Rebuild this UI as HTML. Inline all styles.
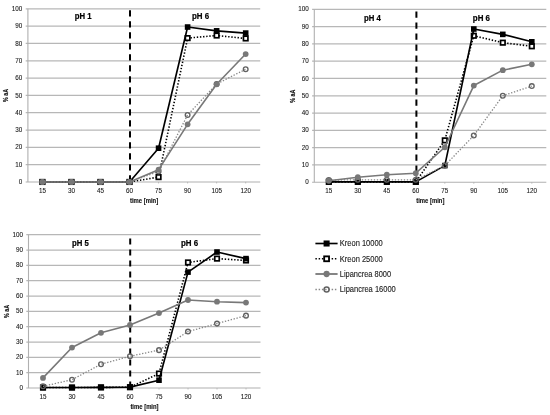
<!DOCTYPE html>
<html><head><meta charset="utf-8"><title>Chart</title>
<style>
html,body{margin:0;padding:0;background:#fff;}
body{width:550px;height:415px;overflow:hidden;}
svg{display:block;}
text{font-family:"Liberation Sans", "DejaVu Sans", sans-serif;fill:#161616;}
.yl{font-size:6.3px;text-anchor:end;stroke:#161616;stroke-width:0.08px;}
.xl{font-size:6.3px;text-anchor:middle;stroke:#161616;stroke-width:0.08px;}
.xt{font-size:6.6px;font-weight:bold;text-anchor:middle;fill:#111;stroke:#111;stroke-width:0.12px;}
.yt{font-size:6.6px;font-weight:bold;text-anchor:middle;fill:#111;stroke:#111;stroke-width:0.18px;}
.ph{font-size:8.4px;font-weight:bold;text-anchor:middle;fill:#000;stroke:#000;stroke-width:0.2px;}
.lg{font-size:8.3px;fill:#222;stroke:#222;stroke-width:0.12px;}
</style></head>
<body>
<svg width="550" height="415" viewBox="0 0 550 415">
<rect width="550" height="415" fill="#fff"/>
<line x1="25.7" y1="164.64" x2="260.2" y2="164.64" stroke="#b7b7b7" stroke-width="1.25"/>
<line x1="25.7" y1="147.33" x2="260.2" y2="147.33" stroke="#b7b7b7" stroke-width="1.25"/>
<line x1="25.7" y1="130.02" x2="260.2" y2="130.02" stroke="#b7b7b7" stroke-width="1.25"/>
<line x1="25.7" y1="112.71" x2="260.2" y2="112.71" stroke="#b7b7b7" stroke-width="1.25"/>
<line x1="25.7" y1="95.4" x2="260.2" y2="95.4" stroke="#b7b7b7" stroke-width="1.25"/>
<line x1="25.7" y1="78.09" x2="260.2" y2="78.09" stroke="#b7b7b7" stroke-width="1.25"/>
<line x1="25.7" y1="60.78" x2="260.2" y2="60.78" stroke="#b7b7b7" stroke-width="1.25"/>
<line x1="25.7" y1="43.47" x2="260.2" y2="43.47" stroke="#b7b7b7" stroke-width="1.25"/>
<line x1="25.7" y1="26.16" x2="260.2" y2="26.16" stroke="#b7b7b7" stroke-width="1.25"/>
<line x1="25.7" y1="8.85" x2="260.2" y2="8.85" stroke="#b7b7b7" stroke-width="1.25"/>
<line x1="27.9" y1="8.85" x2="27.9" y2="181.95" stroke="#b0b0b0" stroke-width="1.1"/>
<line x1="25.7" y1="181.95" x2="260.2" y2="181.95" stroke="#b0b0b0" stroke-width="1.1"/>
<line x1="42.42" y1="181.95" x2="42.42" y2="183.45" stroke="#b0b0b0" stroke-width="0.8"/>
<line x1="71.46" y1="181.95" x2="71.46" y2="183.45" stroke="#b0b0b0" stroke-width="0.8"/>
<line x1="100.49" y1="181.95" x2="100.49" y2="183.45" stroke="#b0b0b0" stroke-width="0.8"/>
<line x1="129.53" y1="181.95" x2="129.53" y2="183.45" stroke="#b0b0b0" stroke-width="0.8"/>
<line x1="158.57" y1="181.95" x2="158.57" y2="183.45" stroke="#b0b0b0" stroke-width="0.8"/>
<line x1="187.61" y1="181.95" x2="187.61" y2="183.45" stroke="#b0b0b0" stroke-width="0.8"/>
<line x1="216.64" y1="181.95" x2="216.64" y2="183.45" stroke="#b0b0b0" stroke-width="0.8"/>
<line x1="245.68" y1="181.95" x2="245.68" y2="183.45" stroke="#b0b0b0" stroke-width="0.8"/>
<text x="22.3" y="184.05" class="yl">0</text>
<text x="22.3" y="166.74" class="yl">10</text>
<text x="22.3" y="149.43" class="yl">20</text>
<text x="22.3" y="132.12" class="yl">30</text>
<text x="22.3" y="114.81" class="yl">40</text>
<text x="22.3" y="97.5" class="yl">50</text>
<text x="22.3" y="80.19" class="yl">60</text>
<text x="22.3" y="62.88" class="yl">70</text>
<text x="22.3" y="45.57" class="yl">80</text>
<text x="22.3" y="28.26" class="yl">90</text>
<text x="22.3" y="10.95" class="yl">100</text>
<text x="42.42" y="192.55" class="xl">15</text>
<text x="71.46" y="192.55" class="xl">30</text>
<text x="100.49" y="192.55" class="xl">45</text>
<text x="129.53" y="192.55" class="xl">60</text>
<text x="158.57" y="192.55" class="xl">75</text>
<text x="187.61" y="192.55" class="xl">90</text>
<text x="216.64" y="192.55" class="xl">105</text>
<text x="245.68" y="192.55" class="xl">120</text>
<text x="144.05" y="202.55" class="xt" textLength="28.2" lengthAdjust="spacingAndGlyphs">time [min]</text>
<text x="0" y="0" class="yt" textLength="13" lengthAdjust="spacingAndGlyphs" transform="translate(8.3 95.5) rotate(-90)">% aA</text>
<text x="83.1" y="18.5" class="ph" textLength="16.8" lengthAdjust="spacingAndGlyphs">pH 1</text>
<text x="200.5" y="18.5" class="ph" textLength="17.2" lengthAdjust="spacingAndGlyphs">pH 6</text>
<line x1="130" y1="10.3" x2="130" y2="181.95" stroke="#000" stroke-width="2" stroke-dasharray="6.2 4.8"/>
<polyline points="42.42,181.95 71.46,181.95 100.49,181.95 129.53,181.95 158.57,177.1 187.61,38.1 216.64,35.51 245.68,38.45" fill="none" stroke="#000" stroke-width="1.6" stroke-dasharray="1.4 1.75"/>
<rect x="40.17" y="179.7" width="4.5" height="4.5" fill="#fff" stroke="#000" stroke-width="1.7"/>
<rect x="69.21" y="179.7" width="4.5" height="4.5" fill="#fff" stroke="#000" stroke-width="1.7"/>
<rect x="98.24" y="179.7" width="4.5" height="4.5" fill="#fff" stroke="#000" stroke-width="1.7"/>
<rect x="127.28" y="179.7" width="4.5" height="4.5" fill="#fff" stroke="#000" stroke-width="1.7"/>
<rect x="156.32" y="174.85" width="4.5" height="4.5" fill="#fff" stroke="#000" stroke-width="1.7"/>
<rect x="185.36" y="35.85" width="4.5" height="4.5" fill="#fff" stroke="#000" stroke-width="1.7"/>
<rect x="214.39" y="33.26" width="4.5" height="4.5" fill="#fff" stroke="#000" stroke-width="1.7"/>
<rect x="243.43" y="36.2" width="4.5" height="4.5" fill="#fff" stroke="#000" stroke-width="1.7"/>
<polyline points="42.42,181.95 71.46,181.95 100.49,181.95 129.53,181.95 158.57,148.2 187.61,27.03 216.64,30.83 245.68,33.08" fill="none" stroke="#000" stroke-width="1.65" stroke-linejoin="round"/>
<rect x="39.62" y="179.15" width="5.6" height="5.6" fill="#000"/>
<rect x="68.66" y="179.15" width="5.6" height="5.6" fill="#000"/>
<rect x="97.69" y="179.15" width="5.6" height="5.6" fill="#000"/>
<rect x="126.73" y="179.15" width="5.6" height="5.6" fill="#000"/>
<rect x="155.77" y="145.4" width="5.6" height="5.6" fill="#000"/>
<rect x="184.81" y="24.23" width="5.6" height="5.6" fill="#000"/>
<rect x="213.84" y="28.03" width="5.6" height="5.6" fill="#000"/>
<rect x="242.88" y="30.28" width="5.6" height="5.6" fill="#000"/>
<polyline points="42.42,181.95 71.46,181.95 100.49,181.95 129.53,181.95 158.57,171.56 187.61,114.96 216.64,83.98 245.68,69.26" fill="none" stroke="#878787" stroke-width="1.3" stroke-dasharray="1.35 1.65"/>
<circle cx="42.42" cy="181.95" r="2.35" fill="none" stroke="#626262" stroke-width="1.35"/>
<circle cx="71.46" cy="181.95" r="2.35" fill="none" stroke="#626262" stroke-width="1.35"/>
<circle cx="100.49" cy="181.95" r="2.35" fill="none" stroke="#626262" stroke-width="1.35"/>
<circle cx="129.53" cy="181.95" r="2.35" fill="none" stroke="#626262" stroke-width="1.35"/>
<circle cx="158.57" cy="171.56" r="2.35" fill="none" stroke="#626262" stroke-width="1.35"/>
<circle cx="187.61" cy="114.96" r="2.35" fill="none" stroke="#626262" stroke-width="1.35"/>
<circle cx="216.64" cy="83.98" r="2.35" fill="none" stroke="#626262" stroke-width="1.35"/>
<circle cx="245.68" cy="69.26" r="2.35" fill="none" stroke="#626262" stroke-width="1.35"/>
<polyline points="42.42,181.95 71.46,181.95 100.49,181.95 129.53,181.95 158.57,169.66 187.61,124.31 216.64,84.32 245.68,54.03" fill="none" stroke="#787878" stroke-width="1.6" stroke-linejoin="round"/>
<circle cx="42.42" cy="181.95" r="2.9" fill="#787878"/>
<circle cx="71.46" cy="181.95" r="2.9" fill="#787878"/>
<circle cx="100.49" cy="181.95" r="2.9" fill="#787878"/>
<circle cx="129.53" cy="181.95" r="2.9" fill="#787878"/>
<circle cx="158.57" cy="169.66" r="2.9" fill="#787878"/>
<circle cx="187.61" cy="124.31" r="2.9" fill="#787878"/>
<circle cx="216.64" cy="84.32" r="2.9" fill="#787878"/>
<circle cx="245.68" cy="54.03" r="2.9" fill="#787878"/>
<line x1="312.1" y1="164.91" x2="546.3" y2="164.91" stroke="#b7b7b7" stroke-width="1.25"/>
<line x1="312.1" y1="147.62" x2="546.3" y2="147.62" stroke="#b7b7b7" stroke-width="1.25"/>
<line x1="312.1" y1="130.33" x2="546.3" y2="130.33" stroke="#b7b7b7" stroke-width="1.25"/>
<line x1="312.1" y1="113.04" x2="546.3" y2="113.04" stroke="#b7b7b7" stroke-width="1.25"/>
<line x1="312.1" y1="95.75" x2="546.3" y2="95.75" stroke="#b7b7b7" stroke-width="1.25"/>
<line x1="312.1" y1="78.46" x2="546.3" y2="78.46" stroke="#b7b7b7" stroke-width="1.25"/>
<line x1="312.1" y1="61.17" x2="546.3" y2="61.17" stroke="#b7b7b7" stroke-width="1.25"/>
<line x1="312.1" y1="43.88" x2="546.3" y2="43.88" stroke="#b7b7b7" stroke-width="1.25"/>
<line x1="312.1" y1="26.59" x2="546.3" y2="26.59" stroke="#b7b7b7" stroke-width="1.25"/>
<line x1="312.1" y1="9.3" x2="546.3" y2="9.3" stroke="#b7b7b7" stroke-width="1.25"/>
<line x1="314.3" y1="9.3" x2="314.3" y2="182.2" stroke="#b0b0b0" stroke-width="1.1"/>
<line x1="312.1" y1="182.2" x2="546.3" y2="182.2" stroke="#b0b0b0" stroke-width="1.1"/>
<line x1="328.8" y1="182.2" x2="328.8" y2="183.7" stroke="#b0b0b0" stroke-width="0.8"/>
<line x1="357.8" y1="182.2" x2="357.8" y2="183.7" stroke="#b0b0b0" stroke-width="0.8"/>
<line x1="386.8" y1="182.2" x2="386.8" y2="183.7" stroke="#b0b0b0" stroke-width="0.8"/>
<line x1="415.8" y1="182.2" x2="415.8" y2="183.7" stroke="#b0b0b0" stroke-width="0.8"/>
<line x1="444.8" y1="182.2" x2="444.8" y2="183.7" stroke="#b0b0b0" stroke-width="0.8"/>
<line x1="473.8" y1="182.2" x2="473.8" y2="183.7" stroke="#b0b0b0" stroke-width="0.8"/>
<line x1="502.8" y1="182.2" x2="502.8" y2="183.7" stroke="#b0b0b0" stroke-width="0.8"/>
<line x1="531.8" y1="182.2" x2="531.8" y2="183.7" stroke="#b0b0b0" stroke-width="0.8"/>
<text x="308.7" y="184.3" class="yl">0</text>
<text x="308.7" y="167.01" class="yl">10</text>
<text x="308.7" y="149.72" class="yl">20</text>
<text x="308.7" y="132.43" class="yl">30</text>
<text x="308.7" y="115.14" class="yl">40</text>
<text x="308.7" y="97.85" class="yl">50</text>
<text x="308.7" y="80.56" class="yl">60</text>
<text x="308.7" y="63.27" class="yl">70</text>
<text x="308.7" y="45.98" class="yl">80</text>
<text x="308.7" y="28.69" class="yl">90</text>
<text x="308.7" y="11.4" class="yl">100</text>
<text x="328.8" y="192.8" class="xl">15</text>
<text x="357.8" y="192.8" class="xl">30</text>
<text x="386.8" y="192.8" class="xl">45</text>
<text x="415.8" y="192.8" class="xl">60</text>
<text x="444.8" y="192.8" class="xl">75</text>
<text x="473.8" y="192.8" class="xl">90</text>
<text x="502.8" y="192.8" class="xl">105</text>
<text x="531.8" y="192.8" class="xl">120</text>
<text x="430.3" y="202.8" class="xt" textLength="28.2" lengthAdjust="spacingAndGlyphs">time [min]</text>
<text x="0" y="0" class="yt" textLength="13" lengthAdjust="spacingAndGlyphs" transform="translate(294.6 96.2) rotate(-90)">% aA</text>
<text x="372.5" y="20.6" class="ph" textLength="16.8" lengthAdjust="spacingAndGlyphs">pH 4</text>
<text x="481.4" y="20.6" class="ph" textLength="17.2" lengthAdjust="spacingAndGlyphs">pH 6</text>
<line x1="416.4" y1="11.5" x2="416.4" y2="182.2" stroke="#000" stroke-width="2" stroke-dasharray="6.2 4.8"/>
<polyline points="328.8,181.85 357.8,181.85 386.8,181.85 415.8,181.85 444.8,140.36 473.8,35.75 502.8,42.67 531.8,46.3" fill="none" stroke="#000" stroke-width="1.6" stroke-dasharray="1.4 1.75"/>
<rect x="326.55" y="179.6" width="4.5" height="4.5" fill="#fff" stroke="#000" stroke-width="1.7"/>
<rect x="355.55" y="179.6" width="4.5" height="4.5" fill="#fff" stroke="#000" stroke-width="1.7"/>
<rect x="384.55" y="179.6" width="4.5" height="4.5" fill="#fff" stroke="#000" stroke-width="1.7"/>
<rect x="413.55" y="179.6" width="4.5" height="4.5" fill="#fff" stroke="#000" stroke-width="1.7"/>
<rect x="442.55" y="138.11" width="4.5" height="4.5" fill="#fff" stroke="#000" stroke-width="1.7"/>
<rect x="471.55" y="33.5" width="4.5" height="4.5" fill="#fff" stroke="#000" stroke-width="1.7"/>
<rect x="500.55" y="40.42" width="4.5" height="4.5" fill="#fff" stroke="#000" stroke-width="1.7"/>
<rect x="529.55" y="44.05" width="4.5" height="4.5" fill="#fff" stroke="#000" stroke-width="1.7"/>
<polyline points="328.8,181.85 357.8,181.85 386.8,181.85 415.8,181.85 444.8,165.6 473.8,29.01 502.8,34.37 531.8,41.81" fill="none" stroke="#000" stroke-width="1.65" stroke-linejoin="round"/>
<rect x="326" y="179.05" width="5.6" height="5.6" fill="#000"/>
<rect x="355" y="179.05" width="5.6" height="5.6" fill="#000"/>
<rect x="384" y="179.05" width="5.6" height="5.6" fill="#000"/>
<rect x="413" y="179.05" width="5.6" height="5.6" fill="#000"/>
<rect x="442" y="162.8" width="5.6" height="5.6" fill="#000"/>
<rect x="471" y="26.21" width="5.6" height="5.6" fill="#000"/>
<rect x="500" y="31.57" width="5.6" height="5.6" fill="#000"/>
<rect x="529" y="39.01" width="5.6" height="5.6" fill="#000"/>
<polyline points="328.8,180.13 357.8,179.78 386.8,179.78 415.8,179.78 444.8,165.6 473.8,135.52 502.8,95.75 531.8,86.07" fill="none" stroke="#878787" stroke-width="1.3" stroke-dasharray="1.35 1.65"/>
<circle cx="328.8" cy="180.13" r="2.35" fill="none" stroke="#626262" stroke-width="1.35"/>
<circle cx="357.8" cy="179.78" r="2.35" fill="none" stroke="#626262" stroke-width="1.35"/>
<circle cx="386.8" cy="179.78" r="2.35" fill="none" stroke="#626262" stroke-width="1.35"/>
<circle cx="415.8" cy="179.78" r="2.35" fill="none" stroke="#626262" stroke-width="1.35"/>
<circle cx="444.8" cy="165.6" r="2.35" fill="none" stroke="#626262" stroke-width="1.35"/>
<circle cx="473.8" cy="135.52" r="2.35" fill="none" stroke="#626262" stroke-width="1.35"/>
<circle cx="502.8" cy="95.75" r="2.35" fill="none" stroke="#626262" stroke-width="1.35"/>
<circle cx="531.8" cy="86.07" r="2.35" fill="none" stroke="#626262" stroke-width="1.35"/>
<polyline points="328.8,180.82 357.8,177.19 386.8,174.77 415.8,173.21 444.8,147.27 473.8,85.55 502.8,70.16 531.8,64.28" fill="none" stroke="#787878" stroke-width="1.6" stroke-linejoin="round"/>
<circle cx="328.8" cy="180.82" r="2.9" fill="#787878"/>
<circle cx="357.8" cy="177.19" r="2.9" fill="#787878"/>
<circle cx="386.8" cy="174.77" r="2.9" fill="#787878"/>
<circle cx="415.8" cy="173.21" r="2.9" fill="#787878"/>
<circle cx="444.8" cy="147.27" r="2.9" fill="#787878"/>
<circle cx="473.8" cy="85.55" r="2.9" fill="#787878"/>
<circle cx="502.8" cy="70.16" r="2.9" fill="#787878"/>
<circle cx="531.8" cy="64.28" r="2.9" fill="#787878"/>
<line x1="26.3" y1="372.67" x2="260.5" y2="372.67" stroke="#b7b7b7" stroke-width="1.25"/>
<line x1="26.3" y1="357.34" x2="260.5" y2="357.34" stroke="#b7b7b7" stroke-width="1.25"/>
<line x1="26.3" y1="342.01" x2="260.5" y2="342.01" stroke="#b7b7b7" stroke-width="1.25"/>
<line x1="26.3" y1="326.68" x2="260.5" y2="326.68" stroke="#b7b7b7" stroke-width="1.25"/>
<line x1="26.3" y1="311.35" x2="260.5" y2="311.35" stroke="#b7b7b7" stroke-width="1.25"/>
<line x1="26.3" y1="296.02" x2="260.5" y2="296.02" stroke="#b7b7b7" stroke-width="1.25"/>
<line x1="26.3" y1="280.69" x2="260.5" y2="280.69" stroke="#b7b7b7" stroke-width="1.25"/>
<line x1="26.3" y1="265.36" x2="260.5" y2="265.36" stroke="#b7b7b7" stroke-width="1.25"/>
<line x1="26.3" y1="250.03" x2="260.5" y2="250.03" stroke="#b7b7b7" stroke-width="1.25"/>
<line x1="26.3" y1="234.7" x2="260.5" y2="234.7" stroke="#b7b7b7" stroke-width="1.25"/>
<line x1="28.5" y1="234.7" x2="28.5" y2="388" stroke="#b0b0b0" stroke-width="1.1"/>
<line x1="26.3" y1="388" x2="260.5" y2="388" stroke="#b0b0b0" stroke-width="1.1"/>
<line x1="43" y1="388" x2="43" y2="389.5" stroke="#b0b0b0" stroke-width="0.8"/>
<line x1="72" y1="388" x2="72" y2="389.5" stroke="#b0b0b0" stroke-width="0.8"/>
<line x1="101" y1="388" x2="101" y2="389.5" stroke="#b0b0b0" stroke-width="0.8"/>
<line x1="130" y1="388" x2="130" y2="389.5" stroke="#b0b0b0" stroke-width="0.8"/>
<line x1="159" y1="388" x2="159" y2="389.5" stroke="#b0b0b0" stroke-width="0.8"/>
<line x1="188" y1="388" x2="188" y2="389.5" stroke="#b0b0b0" stroke-width="0.8"/>
<line x1="217" y1="388" x2="217" y2="389.5" stroke="#b0b0b0" stroke-width="0.8"/>
<line x1="246" y1="388" x2="246" y2="389.5" stroke="#b0b0b0" stroke-width="0.8"/>
<text x="22.9" y="390.1" class="yl">0</text>
<text x="22.9" y="374.77" class="yl">10</text>
<text x="22.9" y="359.44" class="yl">20</text>
<text x="22.9" y="344.11" class="yl">30</text>
<text x="22.9" y="328.78" class="yl">40</text>
<text x="22.9" y="313.45" class="yl">50</text>
<text x="22.9" y="298.12" class="yl">60</text>
<text x="22.9" y="282.79" class="yl">70</text>
<text x="22.9" y="267.46" class="yl">80</text>
<text x="22.9" y="252.13" class="yl">90</text>
<text x="22.9" y="236.8" class="yl">100</text>
<text x="43" y="398.6" class="xl">15</text>
<text x="72" y="398.6" class="xl">30</text>
<text x="101" y="398.6" class="xl">45</text>
<text x="130" y="398.6" class="xl">60</text>
<text x="159" y="398.6" class="xl">75</text>
<text x="188" y="398.6" class="xl">90</text>
<text x="217" y="398.6" class="xl">105</text>
<text x="246" y="398.6" class="xl">120</text>
<text x="144.5" y="408.6" class="xt" textLength="28.2" lengthAdjust="spacingAndGlyphs">time [min]</text>
<text x="0" y="0" class="yt" textLength="13" lengthAdjust="spacingAndGlyphs" transform="translate(8.8 311.5) rotate(-90)">% aA</text>
<text x="80.5" y="245.6" class="ph" textLength="16.8" lengthAdjust="spacingAndGlyphs">pH 5</text>
<text x="189.5" y="245.6" class="ph" textLength="17.2" lengthAdjust="spacingAndGlyphs">pH 6</text>
<line x1="130.2" y1="238.4" x2="130.2" y2="388" stroke="#000" stroke-width="2" stroke-dasharray="6.2 4.8"/>
<polyline points="43,387.54 72,387.54 101,387.39 130,387.23 159,373.59 188,262.45 217,258.61 246,260.45" fill="none" stroke="#000" stroke-width="1.6" stroke-dasharray="1.4 1.75"/>
<rect x="40.75" y="385.29" width="4.5" height="4.5" fill="#fff" stroke="#000" stroke-width="1.7"/>
<rect x="69.75" y="385.29" width="4.5" height="4.5" fill="#fff" stroke="#000" stroke-width="1.7"/>
<rect x="98.75" y="385.14" width="4.5" height="4.5" fill="#fff" stroke="#000" stroke-width="1.7"/>
<rect x="127.75" y="384.98" width="4.5" height="4.5" fill="#fff" stroke="#000" stroke-width="1.7"/>
<rect x="156.75" y="371.34" width="4.5" height="4.5" fill="#fff" stroke="#000" stroke-width="1.7"/>
<rect x="185.75" y="260.2" width="4.5" height="4.5" fill="#fff" stroke="#000" stroke-width="1.7"/>
<rect x="214.75" y="256.36" width="4.5" height="4.5" fill="#fff" stroke="#000" stroke-width="1.7"/>
<rect x="243.75" y="258.2" width="4.5" height="4.5" fill="#fff" stroke="#000" stroke-width="1.7"/>
<polyline points="43,387.54 72,387.54 101,387.39 130,387.08 159,380.18 188,272.11 217,252.02 246,258.61" fill="none" stroke="#000" stroke-width="1.65" stroke-linejoin="round"/>
<rect x="40.2" y="384.74" width="5.6" height="5.6" fill="#000"/>
<rect x="69.2" y="384.74" width="5.6" height="5.6" fill="#000"/>
<rect x="98.2" y="384.59" width="5.6" height="5.6" fill="#000"/>
<rect x="127.2" y="384.28" width="5.6" height="5.6" fill="#000"/>
<rect x="156.2" y="377.38" width="5.6" height="5.6" fill="#000"/>
<rect x="185.2" y="269.31" width="5.6" height="5.6" fill="#000"/>
<rect x="214.2" y="249.22" width="5.6" height="5.6" fill="#000"/>
<rect x="243.2" y="255.81" width="5.6" height="5.6" fill="#000"/>
<polyline points="43,386.31 72,379.72 101,364.24 130,356.27 159,350.13 188,331.59 217,323.61 246,315.64" fill="none" stroke="#878787" stroke-width="1.3" stroke-dasharray="1.35 1.65"/>
<circle cx="43" cy="386.31" r="2.35" fill="none" stroke="#626262" stroke-width="1.35"/>
<circle cx="72" cy="379.72" r="2.35" fill="none" stroke="#626262" stroke-width="1.35"/>
<circle cx="101" cy="364.24" r="2.35" fill="none" stroke="#626262" stroke-width="1.35"/>
<circle cx="130" cy="356.27" r="2.35" fill="none" stroke="#626262" stroke-width="1.35"/>
<circle cx="159" cy="350.13" r="2.35" fill="none" stroke="#626262" stroke-width="1.35"/>
<circle cx="188" cy="331.59" r="2.35" fill="none" stroke="#626262" stroke-width="1.35"/>
<circle cx="217" cy="323.61" r="2.35" fill="none" stroke="#626262" stroke-width="1.35"/>
<circle cx="246" cy="315.64" r="2.35" fill="none" stroke="#626262" stroke-width="1.35"/>
<polyline points="43,377.88 72,347.53 101,332.81 130,324.99 159,313.04 188,300.01 217,301.69 246,302.61" fill="none" stroke="#787878" stroke-width="1.6" stroke-linejoin="round"/>
<circle cx="43" cy="377.88" r="2.9" fill="#787878"/>
<circle cx="72" cy="347.53" r="2.9" fill="#787878"/>
<circle cx="101" cy="332.81" r="2.9" fill="#787878"/>
<circle cx="130" cy="324.99" r="2.9" fill="#787878"/>
<circle cx="159" cy="313.04" r="2.9" fill="#787878"/>
<circle cx="188" cy="300.01" r="2.9" fill="#787878"/>
<circle cx="217" cy="301.69" r="2.9" fill="#787878"/>
<circle cx="246" cy="302.61" r="2.9" fill="#787878"/>
<line x1="315.4" y1="243.5" x2="337.6" y2="243.5" stroke="#000" stroke-width="1.65" stroke-linejoin="round"/>
<rect x="323.58" y="240.48" width="6.05" height="6.05" fill="#000"/>
<text x="339.8" y="246.2" class="lg" textLength="43" lengthAdjust="spacingAndGlyphs">Kreon 10000</text>
<line x1="315.4" y1="258.8" x2="337.6" y2="258.8" stroke="#000" stroke-width="1.6" stroke-dasharray="1.45 1.8"/>
<rect x="324.17" y="256.37" width="4.86" height="4.86" fill="#fff" stroke="#000" stroke-width="1.84"/>
<text x="339.8" y="261.5" class="lg" textLength="43" lengthAdjust="spacingAndGlyphs">Kreon 25000</text>
<line x1="315.4" y1="274" x2="337.6" y2="274" stroke="#787878" stroke-width="1.8" stroke-linejoin="round"/>
<circle cx="326.6" cy="274" r="3.13" fill="#787878"/>
<text x="339.8" y="276.7" class="lg" textLength="51.3" lengthAdjust="spacingAndGlyphs">Lipancrea 8000</text>
<line x1="315.4" y1="289.5" x2="337.6" y2="289.5" stroke="#878787" stroke-width="1.3" stroke-dasharray="1.45 1.8"/>
<circle cx="326.6" cy="289.5" r="2.54" fill="none" stroke="#626262" stroke-width="1.46"/>
<text x="339.8" y="292.2" class="lg" textLength="56" lengthAdjust="spacingAndGlyphs">Lipancrea 16000</text>
</svg>
</body></html>
